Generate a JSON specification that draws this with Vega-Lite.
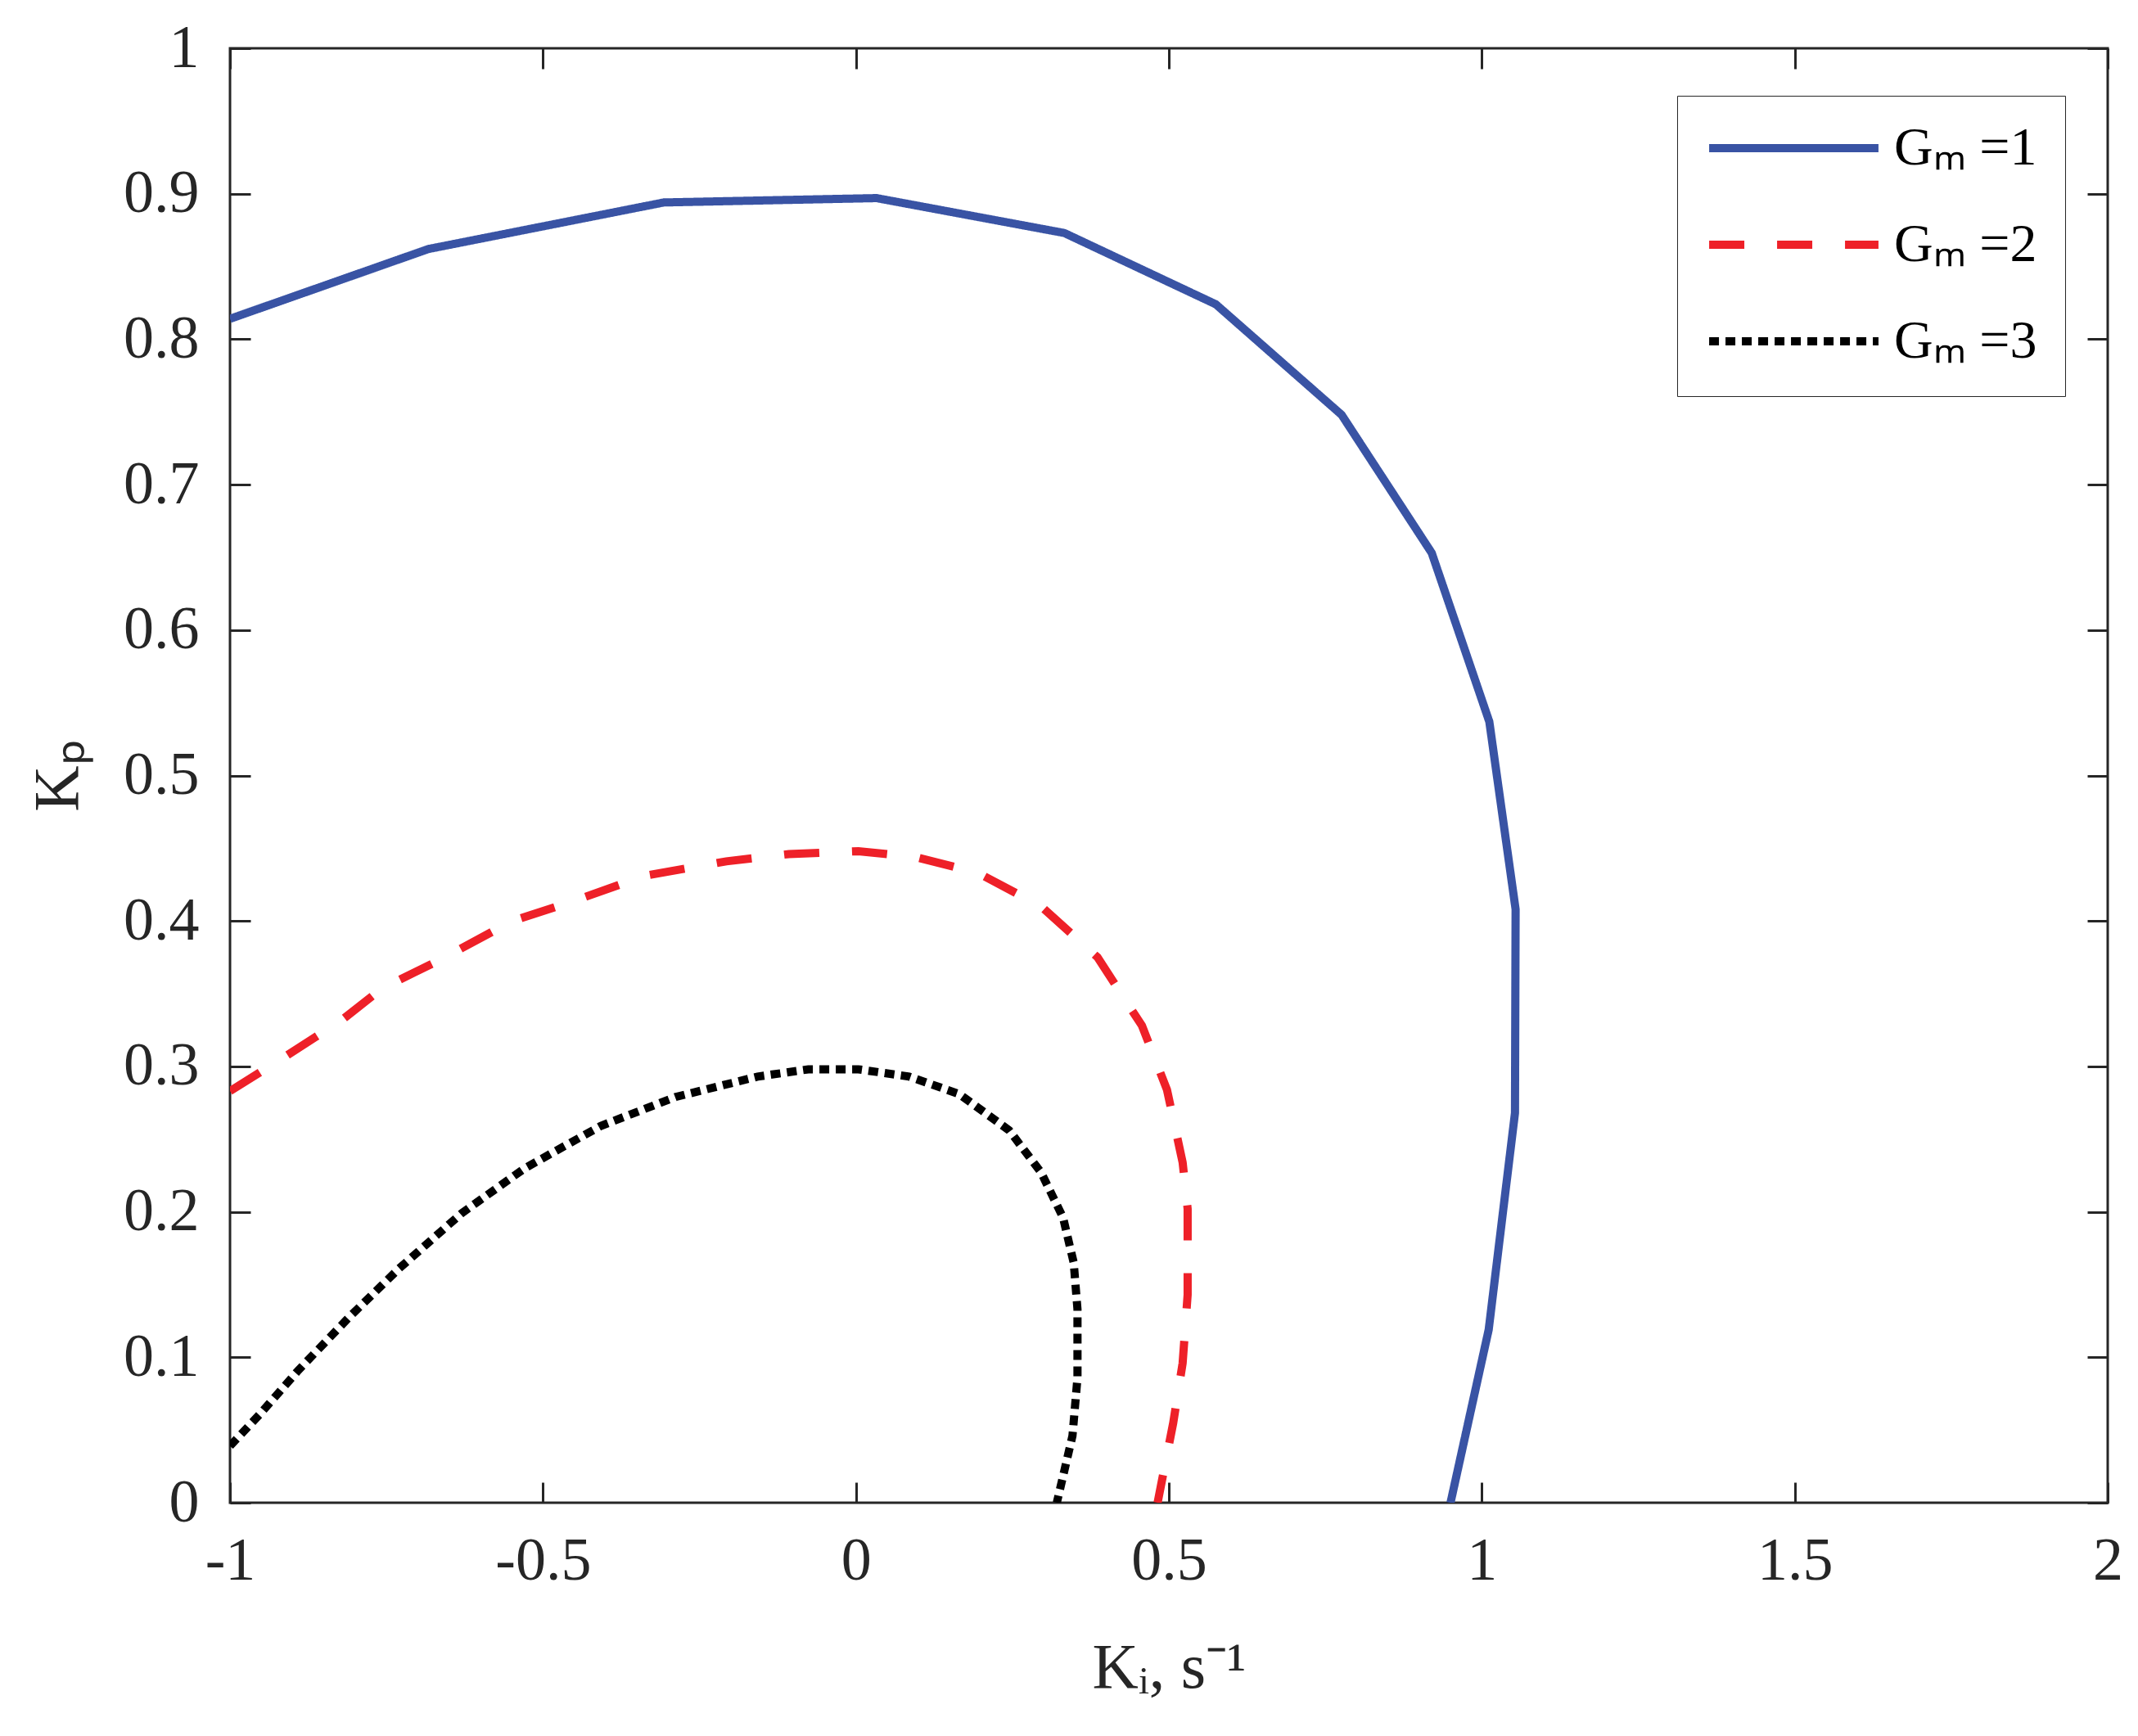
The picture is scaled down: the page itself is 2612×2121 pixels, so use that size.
{
  "$schema": "https://vega.github.io/schema/vega-lite/v6.json",
  "autosize": {"type": "none"},
  "width": 2294,
  "height": 1777,
  "padding": {"left": 281, "top": 59, "right": 37, "bottom": 285},
  "background": "white",
  "config": {
    "font": "Liberation Serif",
    "view": {"stroke": "#262626", "strokeWidth": 3},
    "axis": {
      "grid": false,
      "domain": false,
      "tickColor": "#262626",
      "tickWidth": 3,
      "tickSize": -25,
      "labelFont": "Liberation Serif",
      "labelFontSize": 74,
      "labelColor": "#262626",
      "titleFont": "Liberation Serif",
      "titleFontSize": 78,
      "titleFontWeight": "normal",
      "titleColor": "#262626"
    },
    "legend": {
      "labelFont": "Liberation Serif",
      "labelFontSize": 66,
      "labelColor": "#000000",
      "labelLimit": 400
    }
  },
  "data": {
    "values": [
      {"g": "Gₘ =1", "i": 1, "ki": -1, "kp": 0.814},
      {"g": "Gₘ =1", "i": 2, "ki": -0.683, "kp": 0.862},
      {"g": "Gₘ =1", "i": 3, "ki": -0.307, "kp": 0.894},
      {"g": "Gₘ =1", "i": 4, "ki": 0.033, "kp": 0.897},
      {"g": "Gₘ =1", "i": 5, "ki": 0.333, "kp": 0.873},
      {"g": "Gₘ =1", "i": 6, "ki": 0.575, "kp": 0.824},
      {"g": "Gₘ =1", "i": 7, "ki": 0.776, "kp": 0.748},
      {"g": "Gₘ =1", "i": 8, "ki": 0.92, "kp": 0.653},
      {"g": "Gₘ =1", "i": 9, "ki": 1.012, "kp": 0.537},
      {"g": "Gₘ =1", "i": 10, "ki": 1.054, "kp": 0.408},
      {"g": "Gₘ =1", "i": 11, "ki": 1.053, "kp": 0.268},
      {"g": "Gₘ =1", "i": 12, "ki": 1.011, "kp": 0.119},
      {"g": "Gₘ =1", "i": 13, "ki": 0.95, "kp": 0},
      {"g": "Gₘ =2", "i": 1, "ki": -1, "kp": 0.283},
      {"g": "Gₘ =2", "i": 2, "ki": -0.911, "kp": 0.307},
      {"g": "Gₘ =2", "i": 3, "ki": -0.821, "kp": 0.332},
      {"g": "Gₘ =2", "i": 4, "ki": -0.756, "kp": 0.354},
      {"g": "Gₘ =2", "i": 5, "ki": -0.67, "kp": 0.372},
      {"g": "Gₘ =2", "i": 6, "ki": -0.549, "kp": 0.4},
      {"g": "Gₘ =2", "i": 7, "ki": -0.449, "kp": 0.414},
      {"g": "Gₘ =2", "i": 8, "ki": -0.338, "kp": 0.431},
      {"g": "Gₘ =2", "i": 9, "ki": -0.207, "kp": 0.441},
      {"g": "Gₘ =2", "i": 10, "ki": -0.107, "kp": 0.446},
      {"g": "Gₘ =2", "i": 11, "ki": 0.004, "kp": 0.448},
      {"g": "Gₘ =2", "i": 12, "ki": 0.095, "kp": 0.444},
      {"g": "Gₘ =2", "i": 13, "ki": 0.195, "kp": 0.433},
      {"g": "Gₘ =2", "i": 14, "ki": 0.296, "kp": 0.41},
      {"g": "Gₘ =2", "i": 15, "ki": 0.386, "kp": 0.375},
      {"g": "Gₘ =2", "i": 16, "ki": 0.457, "kp": 0.328},
      {"g": "Gₘ =2", "i": 17, "ki": 0.497, "kp": 0.284},
      {"g": "Gₘ =2", "i": 18, "ki": 0.522, "kp": 0.234},
      {"g": "Gₘ =2", "i": 19, "ki": 0.53, "kp": 0.202},
      {"g": "Gₘ =2", "i": 20, "ki": 0.53, "kp": 0.143},
      {"g": "Gₘ =2", "i": 21, "ki": 0.522, "kp": 0.096},
      {"g": "Gₘ =2", "i": 22, "ki": 0.507, "kp": 0.055},
      {"g": "Gₘ =2", "i": 23, "ki": 0.482, "kp": 0},
      {"g": "Gₘ =3", "i": 1, "ki": -1, "kp": 0.039},
      {"g": "Gₘ =3", "i": 2, "ki": -0.952, "kp": 0.061},
      {"g": "Gₘ =3", "i": 3, "ki": -0.891, "kp": 0.091},
      {"g": "Gₘ =3", "i": 4, "ki": -0.811, "kp": 0.127},
      {"g": "Gₘ =3", "i": 5, "ki": -0.73, "kp": 0.161},
      {"g": "Gₘ =3", "i": 6, "ki": -0.63, "kp": 0.199},
      {"g": "Gₘ =3", "i": 7, "ki": -0.529, "kp": 0.23},
      {"g": "Gₘ =3", "i": 8, "ki": -0.408, "kp": 0.259},
      {"g": "Gₘ =3", "i": 9, "ki": -0.288, "kp": 0.279},
      {"g": "Gₘ =3", "i": 10, "ki": -0.157, "kp": 0.293},
      {"g": "Gₘ =3", "i": 11, "ki": -0.076, "kp": 0.298},
      {"g": "Gₘ =3", "i": 12, "ki": 0.004, "kp": 0.298},
      {"g": "Gₘ =3", "i": 13, "ki": 0.085, "kp": 0.293},
      {"g": "Gₘ =3", "i": 14, "ki": 0.165, "kp": 0.281},
      {"g": "Gₘ =3", "i": 15, "ki": 0.245, "kp": 0.256},
      {"g": "Gₘ =3", "i": 16, "ki": 0.296, "kp": 0.227},
      {"g": "Gₘ =3", "i": 17, "ki": 0.331, "kp": 0.196},
      {"g": "Gₘ =3", "i": 18, "ki": 0.348, "kp": 0.165},
      {"g": "Gₘ =3", "i": 19, "ki": 0.354, "kp": 0.133},
      {"g": "Gₘ =3", "i": 20, "ki": 0.354, "kp": 0.086},
      {"g": "Gₘ =3", "i": 21, "ki": 0.346, "kp": 0.046},
      {"g": "Gₘ =3", "i": 22, "ki": 0.321, "kp": 0}
    ]
  },
  "resolve": {"axis": {"x": "independent", "y": "independent"}},
  "layer": [
    {
      "mark": {"type": "line", "strokeWidth": 10, "strokeCap": "butt", "clip": true},
      "encoding": {
        "x": {
          "field": "ki",
          "type": "quantitative",
          "scale": {"domain": [-1, 2], "nice": false, "zero": false},
          "axis": {
            "orient": "bottom",
            "values": [-1, -0.5, 0, 0.5, 1, 1.5, 2],
            "labelExpr": "'' + datum.value",
            "labelPadding": 60,
            "labelFlush": false,
            "title": "Kᵢ, s⁻¹",
            "titlePadding": 55
          }
        },
        "y": {
          "field": "kp",
          "type": "quantitative",
          "scale": {"domain": [0, 1], "nice": false},
          "axis": {
            "orient": "left",
            "values": [0, 0.1, 0.2, 0.3, 0.4, 0.5, 0.6, 0.7, 0.8, 0.9, 1],
            "labelExpr": "'' + datum.value",
            "labelPadding": 63,
            "labelFlush": false,
            "title": "Kₚ",
            "titlePadding": 40
          }
        },
        "order": {"field": "i", "type": "quantitative"},
        "color": {
          "field": "g",
          "type": "nominal",
          "scale": {
            "domain": ["Gₘ =1", "Gₘ =2", "Gₘ =3"],
            "range": ["#3953a4", "#ee2028", "#000000"]
          },
          "legend": {
            "title": null,
            "orient": "none",
            "legendX": 1768,
            "legendY": 58,
            "symbolType": "stroke",
            "symbolSize": 42800,
            "symbolStrokeWidth": 10,
            "clipHeight": 60,
            "rowPadding": 52,
            "labelOffset": 14,
            "padding": 34,
            "strokeColor": "#262626",
            "fillColor": "white"
          }
        },
        "strokeDash": {
          "field": "g",
          "type": "nominal",
          "scale": {
            "domain": ["Gₘ =1", "Gₘ =2", "Gₘ =3"],
            "range": [[1, 0], [43, 40], [12, 8]]
          },
          "legend": null
        }
      }
    },
    {
      "mark": {"type": "line", "opacity": 0},
      "encoding": {
        "x": {
          "field": "ki",
          "type": "quantitative",
          "axis": {"orient": "top", "values": [-1, -0.5, 0, 0.5, 1, 1.5, 2], "labels": false, "title": null}
        },
        "y": {
          "field": "kp",
          "type": "quantitative",
          "axis": {"orient": "right", "values": [0, 0.1, 0.2, 0.3, 0.4, 0.5, 0.6, 0.7, 0.8, 0.9, 1], "labels": false, "title": null}
        },
        "detail": {"field": "g", "type": "nominal"}
      }
    }
  ]
}
